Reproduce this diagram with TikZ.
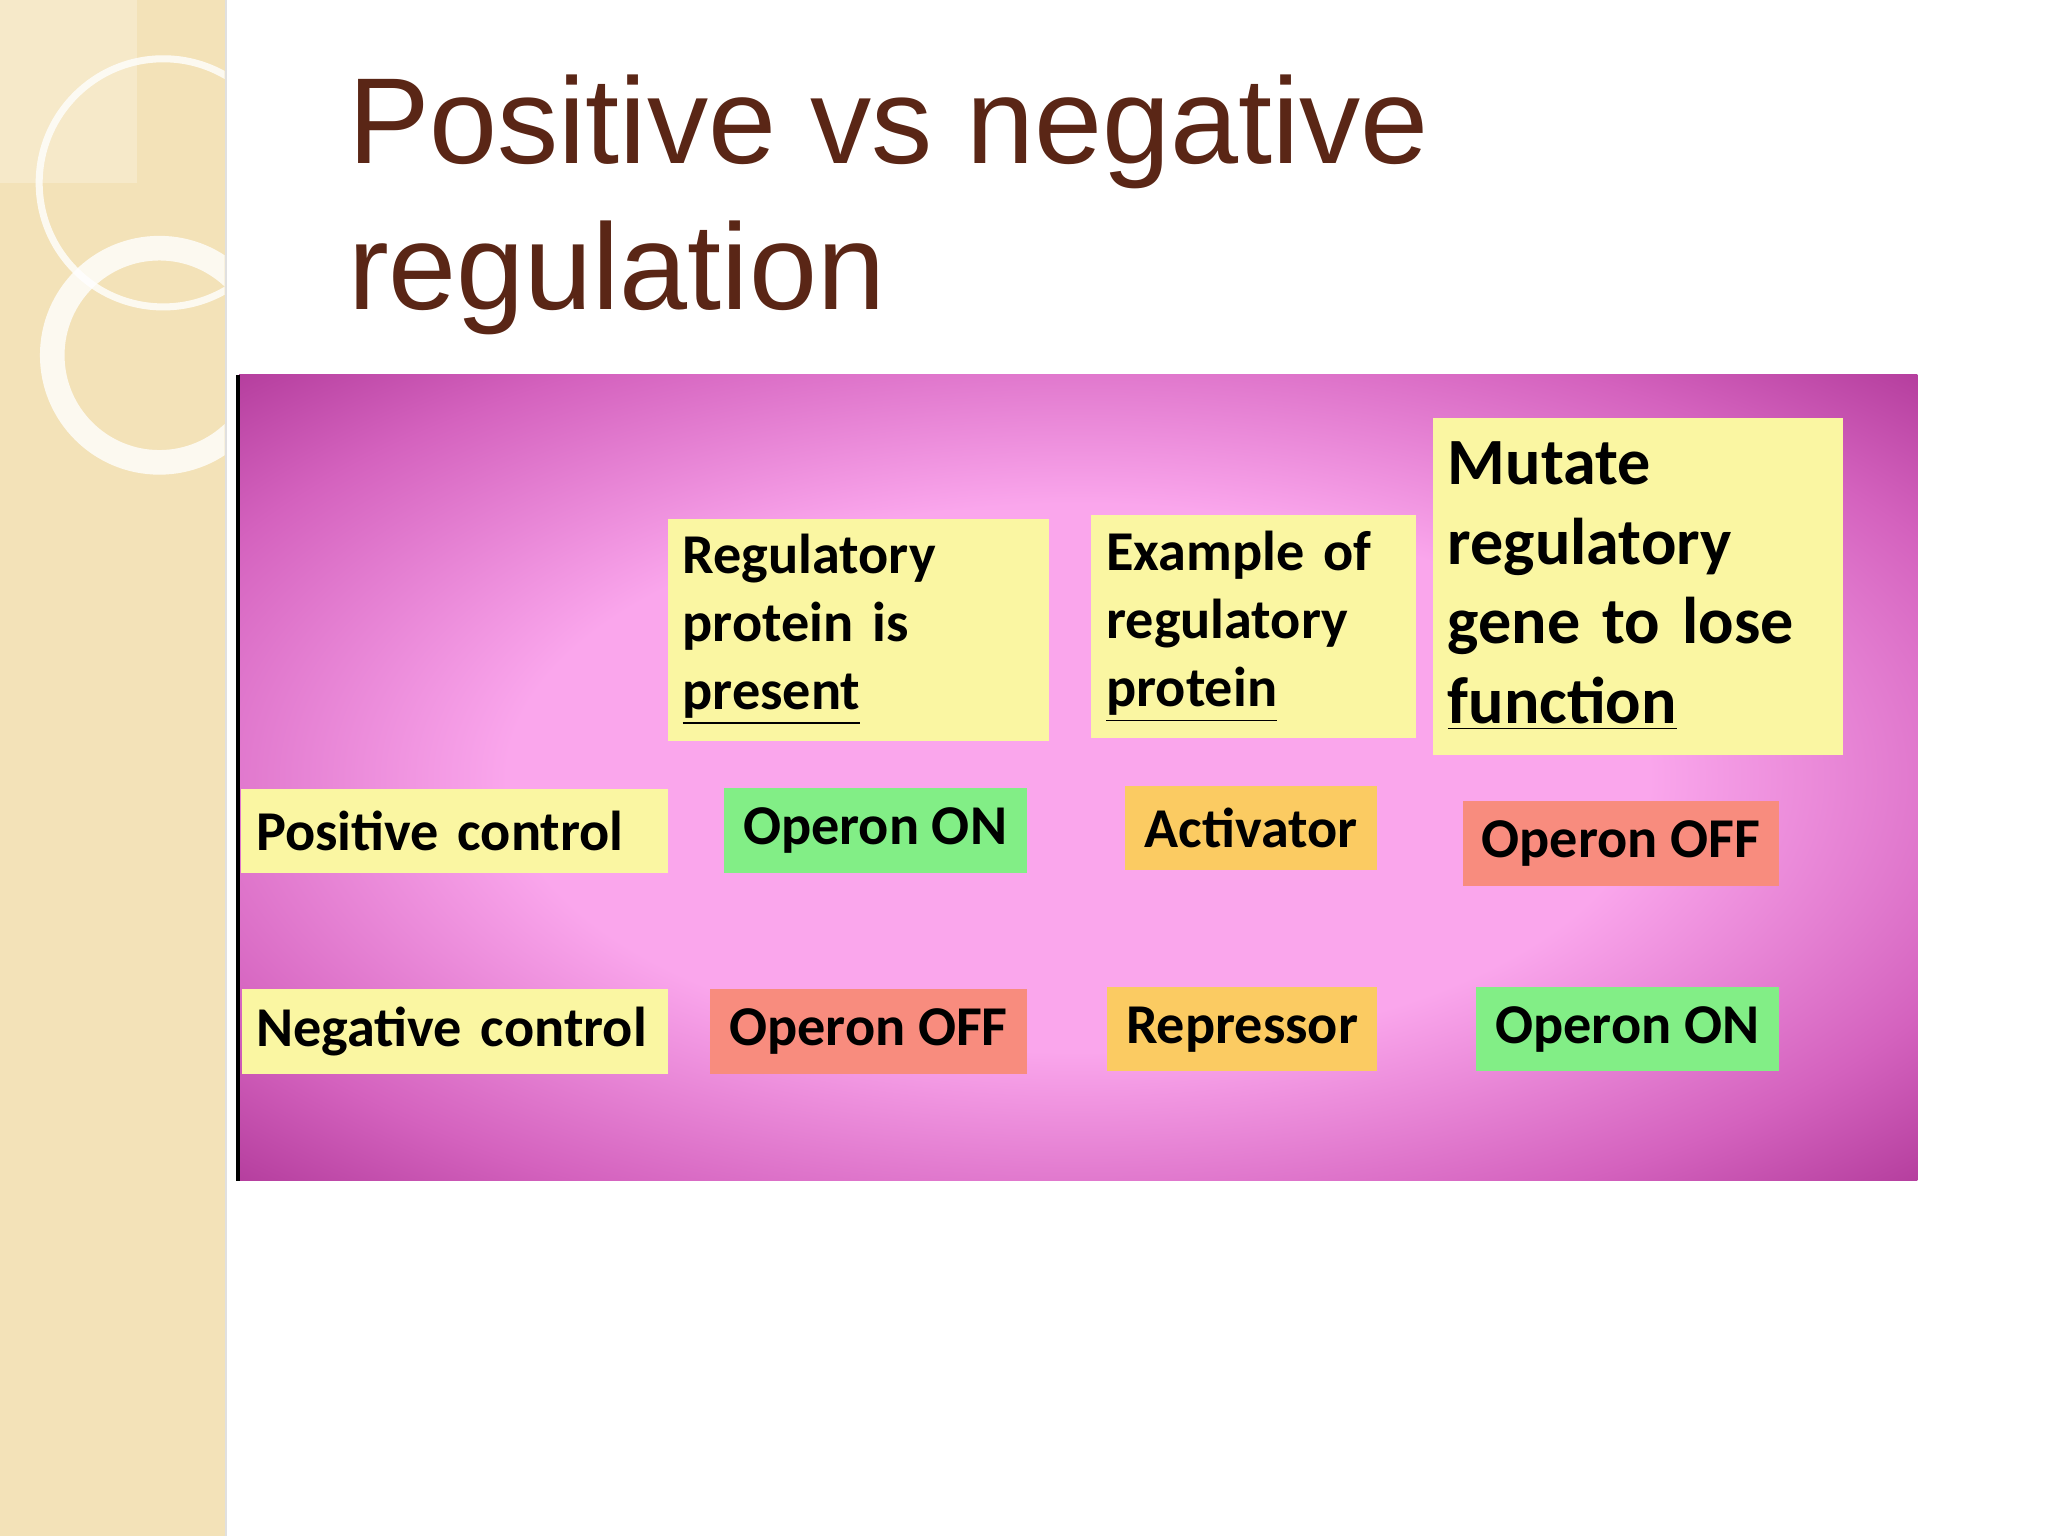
\documentclass[tikz,border=0pt]{standalone}
\usepackage{fontspec}
\setmainfont{Carlito}
\newfontfamily\titlefont{Liberation Sans}
\usetikzlibrary{positioning}
\definecolor{strip}{HTML}{F3E2B8}
\definecolor{titlebrown}{HTML}{5A2616}
\definecolor{panelin}{HTML}{FAA6EC}
\definecolor{panelmid}{HTML}{D462BE}
\definecolor{panelout}{HTML}{9A1F82}
\definecolor{cellyellow}{HTML}{FAF6A2}
\definecolor{cellgreen}{HTML}{82EE86}
\definecolor{cellorange}{HTML}{FBCB62}
\definecolor{cellred}{HTML}{F88C7E}
\pgfdeclareradialshading{panelglow}{\pgfpoint{0bp}{0bp}}{color(0bp)=(panelin); color(17bp)=(panelin); color(29bp)=(panelmid); color(41bp)=(panelout); color(50bp)=(panelout)}
\tikzset{
  cell/.style={fill=#1, inner xsep=0.15cm, inner ysep=0pt, font=\bfseries\fontsize{16}{19.3}\selectfont, text=black},
  row/.style={cell=cellyellow, align=left},
  head/.style={cell=cellyellow, align=left}
}
\begin{document}
\begin{tikzpicture}[x=0.01306cm,y=-0.01306cm]
\useasboundingbox (0,0) rectangle (1568,1176);
\fill[white] (0,0) rectangle (1568,1176);
\fill[strip] (0,0) rectangle (172,1176);
\fill[black!12] (172,0) rectangle (174,1176);
% rings on the strip
\begin{scope}
\clip (0,0) rectangle (172,1176);
\draw[white, line width=2pt, opacity=0.8] (125,140) circle (95);
\draw[white, line width=7pt, opacity=0.8] (122,272) circle (82);
\fill[white, opacity=0.25] (0,0) rectangle (105,140);
\end{scope}
% title
\node[anchor=base west, text=titlebrown, font=\titlefont\fontsize{34.8}{40}\selectfont] (title) at (257,125) {Positive vs negative};
\node[anchor=base west, text=titlebrown, font=\titlefont\fontsize{34.8}{40}\selectfont] (title2) at (257,237) {regulation};
% panel
\shade[shading=panelglow] (183,287) rectangle (1468,904);
\fill[black] (181,287) rectangle (184,904);
% headers
\node[head, text width=3.51cm, minimum height=2.22cm] (reg) at (657,482) {Regulatory\\protein is\\\underline{present}};
\node[head, text width=2.95cm, minimum height=2.23cm] (ex) at (960,480) {Example of\\regulatory\\\underline{protein}};
\node[head, text width=3.80cm, minimum height=3.37cm, font=\bfseries\fontsize{18.8}{22.6}\selectfont] (mut) at (1254,449) {Mutate\\regulatory\\gene to lose\\\underline{function}};
% rows
\node[row, text width=3.97cm, minimum height=0.84cm] (pos) at (348,636) {Positive control};
\node[cell=cellgreen, minimum width=3.03cm, minimum height=0.85cm] (on1) at (670,636) {Operon ON};
\node[cell=cellorange, minimum width=2.52cm, minimum height=0.84cm] (act) at (958,634) {Activator};
\node[cell=cellred, minimum width=3.16cm, minimum height=0.85cm] (off1) at (1241,646) {Operon OFF};
\node[row, text width=3.96cm, minimum height=0.85cm] (neg) at (348,790) {Negative control};
\node[cell=cellred, minimum width=3.17cm, minimum height=0.85cm] (off2) at (665,790) {Operon OFF};
\node[cell=cellorange, minimum width=2.70cm, minimum height=0.84cm] (rep) at (951,788) {Repressor};
\node[cell=cellgreen, minimum width=3.03cm, minimum height=0.84cm] (on2) at (1246,788) {Operon ON};
\end{tikzpicture}
\end{document}
